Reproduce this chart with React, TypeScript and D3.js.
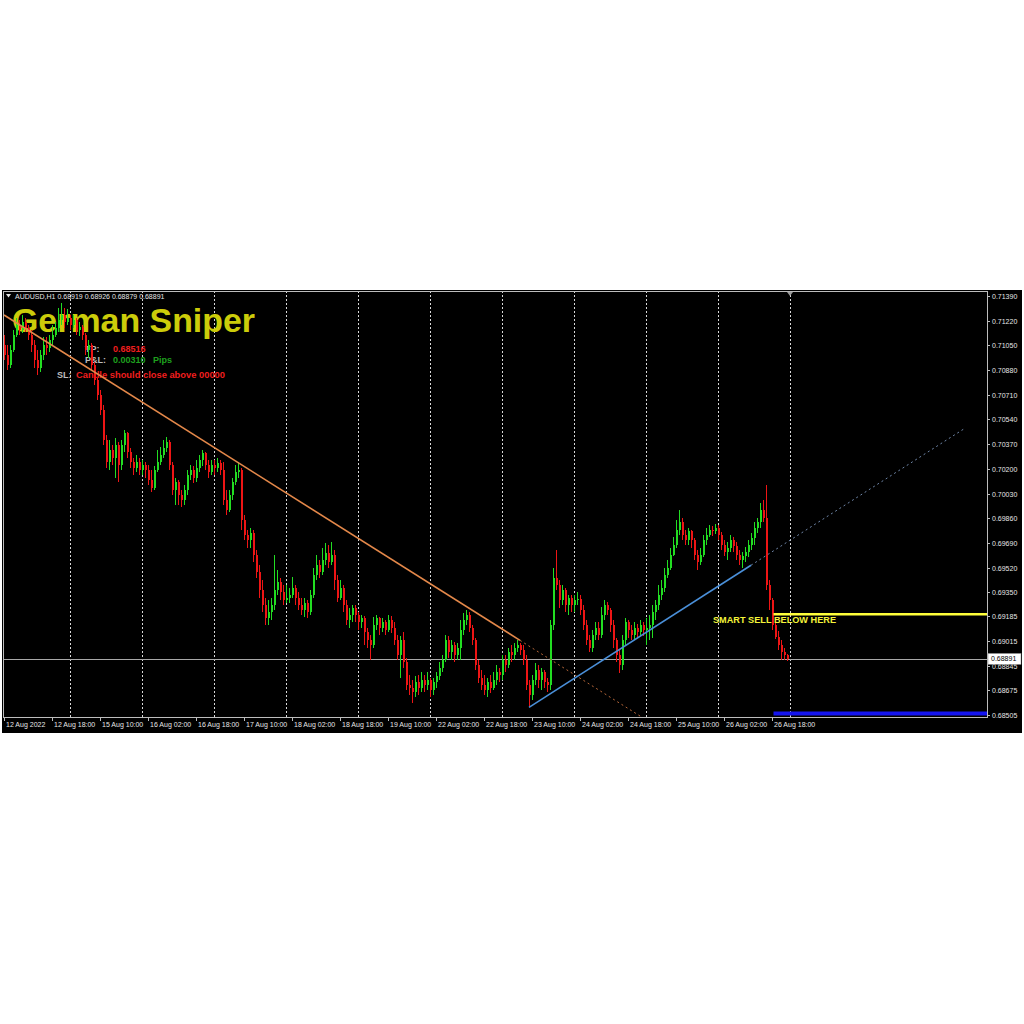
import React from 'react';
import * as d3 from 'd3';

// AUDUSD H1 candles, 12 Aug 2022 02:00 .. 26 Aug 2022 23:00
const opens = [
  0.71053, 0.70984, 0.70915, 0.71018, 0.71121, 0.71190, 0.71156, 0.71211, 0.71169, 0.71121, 0.71053, 0.70949, 0.70894, 0.70984, 0.71053, 0.71032, 0.71087, 0.71121, 0.71169, 0.71225, 0.71259, 0.71211,
  0.71239, 0.71190, 0.71225, 0.71156, 0.71176, 0.71121, 0.71018, 0.71053, 0.70915, 0.70811, 0.70708, 0.70605, 0.70398, 0.70246, 0.70329, 0.70274, 0.70363, 0.70226, 0.70363, 0.70446, 0.70315, 0.70246, 0.70205, 0.70246,
  0.70191, 0.70226, 0.70191, 0.70122, 0.70067, 0.70191, 0.70246, 0.70295, 0.70343, 0.70384, 0.70226, 0.70053, 0.70108, 0.70019, 0.69984, 0.70053, 0.70157, 0.70191, 0.70136, 0.70205, 0.70260, 0.70308, 0.70226, 0.70177,
  0.70226, 0.70205, 0.70239, 0.70191, 0.69984, 0.69915, 0.70019, 0.70108, 0.70177, 0.70191, 0.69846, 0.69743, 0.69708, 0.69757, 0.69605, 0.69488, 0.69364, 0.69261, 0.69171, 0.69212, 0.69261, 0.69364, 0.69419, 0.69350,
  0.69295, 0.69309, 0.69329, 0.69377, 0.69309, 0.69261, 0.69226, 0.69274, 0.69212, 0.69329, 0.69467, 0.69536, 0.69488, 0.69571, 0.69619, 0.69557, 0.69605, 0.69433, 0.69309, 0.69377, 0.69261, 0.69157, 0.69192, 0.69240,
  0.69192, 0.69143, 0.69171, 0.69074, 0.69019, 0.68985, 0.69123, 0.69171, 0.69102, 0.69143, 0.69088, 0.69157, 0.69102, 0.69019, 0.68916, 0.69019, 0.68867, 0.68709, 0.68688, 0.68661, 0.68730, 0.68688, 0.68744, 0.68709,
  0.68744, 0.68675, 0.68730, 0.68771, 0.68827, 0.68881, 0.69019, 0.68936, 0.68985, 0.68916, 0.68964, 0.69088, 0.69157, 0.69192, 0.69102, 0.69019, 0.68847, 0.68758, 0.68709, 0.68675, 0.68730, 0.68688, 0.68744, 0.68799,
  0.68778, 0.68881, 0.68847, 0.68936, 0.68916, 0.68964, 0.68985, 0.68950, 0.68881, 0.68709, 0.68640, 0.68744, 0.68813, 0.68744, 0.68799, 0.68730, 0.68709, 0.69123, 0.69446, 0.69398, 0.69295, 0.69364, 0.69261, 0.69309,
  0.69261, 0.69295, 0.69302, 0.69226, 0.69123, 0.69019, 0.68964, 0.69054, 0.69102, 0.69054, 0.69192, 0.69261, 0.69226, 0.69123, 0.69019, 0.68916, 0.68847, 0.69019, 0.69143, 0.69088, 0.69054, 0.69102, 0.69074, 0.69123,
  0.69088, 0.69102, 0.69123, 0.69212, 0.69261, 0.69329, 0.69377, 0.69467, 0.69515, 0.69605, 0.69674, 0.69777, 0.69832, 0.69743, 0.69708, 0.69770, 0.69708, 0.69605, 0.69557, 0.69605, 0.69708, 0.69743, 0.69777, 0.69770,
  0.69791, 0.69743, 0.69674, 0.69626, 0.69653, 0.69708, 0.69667, 0.69605, 0.69571, 0.69598, 0.69626, 0.69674, 0.69722, 0.69791, 0.69832, 0.69915, 0.69860, 0.69398, 0.69295, 0.69123, 0.69040, 0.68985, 0.68936, 0.68919,
];

const highs = [
  0.71121, 0.71053, 0.71053, 0.71156, 0.71239, 0.71225, 0.71259, 0.71239, 0.71190, 0.71156, 0.71087, 0.71018, 0.71018, 0.71107, 0.71107, 0.71121, 0.71190, 0.71211, 0.71308, 0.71342, 0.71308, 0.71301,
  0.71259, 0.71259, 0.71239, 0.71211, 0.71190, 0.71135, 0.71087, 0.71067, 0.70935, 0.70825, 0.70742, 0.70639, 0.70432, 0.70398, 0.70363, 0.70412, 0.70384, 0.70398, 0.70467, 0.70453, 0.70343, 0.70274, 0.70295, 0.70274,
  0.70260, 0.70246, 0.70226, 0.70191, 0.70219, 0.70329, 0.70349, 0.70398, 0.70418, 0.70398, 0.70246, 0.70136, 0.70122, 0.70053, 0.70088, 0.70191, 0.70226, 0.70219, 0.70260, 0.70295, 0.70329, 0.70315, 0.70260, 0.70260,
  0.70260, 0.70274, 0.70260, 0.70246, 0.70053, 0.70053, 0.70136, 0.70226, 0.70246, 0.70205, 0.69881, 0.69777, 0.69791, 0.69777, 0.69640, 0.69536, 0.69433, 0.69308, 0.69295, 0.69308, 0.69605, 0.69502, 0.69446, 0.69398,
  0.69398, 0.69377, 0.69453, 0.69398, 0.69350, 0.69309, 0.69309, 0.69295, 0.69364, 0.69516, 0.69605, 0.69571, 0.69653, 0.69688, 0.69674, 0.69694, 0.69640, 0.69467, 0.69433, 0.69398, 0.69295, 0.69240, 0.69261, 0.69261,
  0.69212, 0.69192, 0.69185, 0.69102, 0.69054, 0.69178, 0.69192, 0.69178, 0.69171, 0.69157, 0.69192, 0.69185, 0.69143, 0.69054, 0.69047, 0.69074, 0.68895, 0.68778, 0.68744, 0.68771, 0.68778, 0.68799, 0.68778, 0.68799,
  0.68758, 0.68758, 0.68799, 0.68867, 0.68916, 0.69054, 0.69047, 0.69019, 0.69005, 0.68998, 0.69157, 0.69206, 0.69226, 0.69212, 0.69123, 0.69033, 0.68881, 0.68813, 0.68778, 0.68758, 0.68778, 0.68799, 0.68847, 0.68827,
  0.68916, 0.68916, 0.68964, 0.68985, 0.68998, 0.69019, 0.68998, 0.68985, 0.68916, 0.68744, 0.68778, 0.68861, 0.68847, 0.68827, 0.68813, 0.68758, 0.69157, 0.69515, 0.69640, 0.69433, 0.69398, 0.69377, 0.69329, 0.69329,
  0.69329, 0.69350, 0.69329, 0.69261, 0.69157, 0.69054, 0.69088, 0.69143, 0.69143, 0.69247, 0.69295, 0.69281, 0.69240, 0.69157, 0.69033, 0.68950, 0.69054, 0.69171, 0.69157, 0.69123, 0.69143, 0.69130, 0.69157, 0.69143,
  0.69171, 0.69192, 0.69261, 0.69295, 0.69398, 0.69433, 0.69515, 0.69571, 0.69653, 0.69729, 0.69846, 0.69915, 0.69860, 0.69777, 0.69791, 0.69777, 0.69722, 0.69640, 0.69653, 0.69743, 0.69791, 0.69812, 0.69805, 0.69819,
  0.69812, 0.69764, 0.69708, 0.69694, 0.69743, 0.69729, 0.69694, 0.69640, 0.69626, 0.69660, 0.69708, 0.69757, 0.69832, 0.69860, 0.69964, 0.69984, 0.70088, 0.69433, 0.69309, 0.69143, 0.69081, 0.69019, 0.68964, 0.68926,
];

const lows = [
  0.70949, 0.70880, 0.70894, 0.71004, 0.71107, 0.71121, 0.71135, 0.71142, 0.71087, 0.71004, 0.70894, 0.70846, 0.70866, 0.70949, 0.70984, 0.71004, 0.71053, 0.71107, 0.71142, 0.71190, 0.71169, 0.71190,
  0.71156, 0.71169, 0.71121, 0.71114, 0.71087, 0.70984, 0.70963, 0.70880, 0.70777, 0.70674, 0.70570, 0.70363, 0.70205, 0.70191, 0.70226, 0.70136, 0.70108, 0.70191, 0.70315, 0.70274, 0.70205, 0.70157, 0.70177, 0.70157,
  0.70157, 0.70136, 0.70088, 0.70039, 0.70053, 0.70177, 0.70226, 0.70274, 0.70315, 0.70191, 0.70019, 0.69950, 0.69950, 0.69936, 0.69950, 0.70019, 0.70122, 0.70101, 0.70108, 0.70177, 0.70219, 0.70191, 0.70136, 0.70157,
  0.70157, 0.70177, 0.70157, 0.69950, 0.69881, 0.69901, 0.69984, 0.70088, 0.70136, 0.69777, 0.69708, 0.69653, 0.69653, 0.69557, 0.69446, 0.69308, 0.69212, 0.69123, 0.69123, 0.69157, 0.69226, 0.69329, 0.69295, 0.69261,
  0.69274, 0.69274, 0.69309, 0.69261, 0.69226, 0.69192, 0.69178, 0.69171, 0.69192, 0.69309, 0.69433, 0.69446, 0.69467, 0.69536, 0.69515, 0.69536, 0.69364, 0.69281, 0.69295, 0.69212, 0.69123, 0.69102, 0.69143, 0.69143,
  0.69088, 0.69102, 0.68985, 0.68964, 0.68881, 0.68964, 0.69088, 0.69054, 0.69074, 0.69054, 0.69074, 0.69067, 0.68985, 0.68881, 0.68757, 0.68827, 0.68675, 0.68640, 0.68585, 0.68626, 0.68640, 0.68661, 0.68661, 0.68675,
  0.68626, 0.68640, 0.68688, 0.68744, 0.68799, 0.68867, 0.68895, 0.68881, 0.68867, 0.68881, 0.68881, 0.69054, 0.69123, 0.69074, 0.68985, 0.68813, 0.68723, 0.68675, 0.68640, 0.68626, 0.68654, 0.68675, 0.68709, 0.68730,
  0.68744, 0.68799, 0.68827, 0.68867, 0.68881, 0.68936, 0.68916, 0.68847, 0.68675, 0.68557, 0.68606, 0.68709, 0.68688, 0.68675, 0.68688, 0.68661, 0.68675, 0.69088, 0.69364, 0.69240, 0.69261, 0.69212, 0.69192, 0.69212,
  0.69212, 0.69261, 0.69192, 0.69088, 0.68985, 0.68936, 0.68936, 0.69019, 0.69019, 0.69033, 0.69157, 0.69192, 0.69074, 0.68964, 0.68867, 0.68792, 0.68813, 0.68985, 0.69033, 0.69019, 0.69019, 0.69033, 0.69047, 0.69047,
  0.68985, 0.69019, 0.69033, 0.69157, 0.69226, 0.69295, 0.69350, 0.69446, 0.69502, 0.69598, 0.69653, 0.69743, 0.69708, 0.69674, 0.69674, 0.69653, 0.69571, 0.69502, 0.69536, 0.69591, 0.69674, 0.69729, 0.69736, 0.69750,
  0.69708, 0.69640, 0.69598, 0.69571, 0.69626, 0.69626, 0.69571, 0.69536, 0.69515, 0.69557, 0.69591, 0.69640, 0.69674, 0.69757, 0.69791, 0.69832, 0.69364, 0.69226, 0.69088, 0.69026, 0.68950, 0.68881, 0.68881, 0.68879,
];

const closes = [
  0.70984, 0.70915, 0.71018, 0.71121, 0.71190, 0.71156, 0.71211, 0.71169, 0.71121, 0.71053, 0.70949, 0.70894, 0.70984, 0.71053, 0.71032, 0.71087, 0.71121, 0.71169, 0.71225, 0.71259, 0.71211, 0.71239,
  0.71190, 0.71225, 0.71156, 0.71176, 0.71121, 0.71018, 0.71053, 0.70915, 0.70811, 0.70708, 0.70605, 0.70398, 0.70246, 0.70329, 0.70274, 0.70363, 0.70226, 0.70363, 0.70446, 0.70315, 0.70246, 0.70205, 0.70246, 0.70191,
  0.70226, 0.70191, 0.70122, 0.70067, 0.70191, 0.70246, 0.70295, 0.70343, 0.70384, 0.70226, 0.70053, 0.70108, 0.70019, 0.69984, 0.70053, 0.70157, 0.70191, 0.70136, 0.70205, 0.70260, 0.70308, 0.70226, 0.70177, 0.70226,
  0.70205, 0.70239, 0.70191, 0.69984, 0.69915, 0.70019, 0.70108, 0.70177, 0.70191, 0.69846, 0.69743, 0.69708, 0.69757, 0.69605, 0.69488, 0.69364, 0.69261, 0.69171, 0.69212, 0.69261, 0.69364, 0.69419, 0.69350, 0.69295,
  0.69309, 0.69329, 0.69377, 0.69309, 0.69261, 0.69226, 0.69274, 0.69212, 0.69329, 0.69467, 0.69536, 0.69488, 0.69571, 0.69619, 0.69557, 0.69605, 0.69433, 0.69309, 0.69377, 0.69261, 0.69157, 0.69192, 0.69240, 0.69192,
  0.69143, 0.69171, 0.69074, 0.69019, 0.68985, 0.69123, 0.69171, 0.69102, 0.69143, 0.69088, 0.69157, 0.69102, 0.69019, 0.68916, 0.69019, 0.68867, 0.68709, 0.68688, 0.68661, 0.68730, 0.68688, 0.68744, 0.68709, 0.68744,
  0.68675, 0.68730, 0.68771, 0.68827, 0.68881, 0.69019, 0.68936, 0.68985, 0.68916, 0.68964, 0.69088, 0.69157, 0.69192, 0.69102, 0.69019, 0.68847, 0.68758, 0.68709, 0.68675, 0.68730, 0.68688, 0.68744, 0.68799, 0.68778,
  0.68881, 0.68847, 0.68936, 0.68916, 0.68964, 0.68985, 0.68950, 0.68881, 0.68709, 0.68640, 0.68744, 0.68813, 0.68744, 0.68799, 0.68730, 0.68709, 0.69123, 0.69446, 0.69398, 0.69295, 0.69364, 0.69261, 0.69309, 0.69261,
  0.69295, 0.69302, 0.69226, 0.69123, 0.69019, 0.68964, 0.69054, 0.69102, 0.69054, 0.69192, 0.69261, 0.69226, 0.69123, 0.69019, 0.68916, 0.68847, 0.69019, 0.69143, 0.69088, 0.69054, 0.69102, 0.69074, 0.69123, 0.69088,
  0.69102, 0.69123, 0.69212, 0.69261, 0.69329, 0.69377, 0.69467, 0.69515, 0.69605, 0.69674, 0.69777, 0.69832, 0.69743, 0.69708, 0.69770, 0.69708, 0.69605, 0.69557, 0.69605, 0.69708, 0.69743, 0.69777, 0.69770, 0.69791,
  0.69743, 0.69674, 0.69626, 0.69653, 0.69708, 0.69667, 0.69605, 0.69571, 0.69598, 0.69626, 0.69674, 0.69722, 0.69791, 0.69832, 0.69915, 0.69860, 0.69398, 0.69295, 0.69123, 0.69040, 0.68985, 0.68936, 0.68919, 0.68891,
];

const timeLabels = [
  '12 Aug 2022', '12 Aug 18:00', '15 Aug 10:00', '16 Aug 02:00', '16 Aug 18:00', '17 Aug 10:00',
  '18 Aug 02:00', '18 Aug 18:00', '19 Aug 10:00', '22 Aug 02:00', '22 Aug 18:00', '23 Aug 10:00',
  '24 Aug 02:00', '24 Aug 18:00', '25 Aug 10:00', '26 Aug 02:00', '26 Aug 18:00',
];
const timeLabelBars = [0, 16, 32, 48, 64, 80, 96, 112, 128, 144, 160, 176, 192, 208, 224, 240, 256];

// first bar of each trading day (period separators)
const daySeparators = [22, 46, 70, 94, 118, 142, 166, 190, 214, 238, 262];

const priceTicks = [
  '0.71390', '0.71220', '0.71050', '0.70880', '0.70710', '0.70540', '0.70370', '0.70200', '0.70030',
  '0.69860', '0.69690', '0.69520', '0.69350', '0.69185', '0.69015', '0.68845', '0.68675', '0.68505',
];

const lastPrice = 0.68891;
const tpPrice = 0.68516;
const smartSellPrice = 0.69199;

// trend lines: [bar, price] anchors and the bar where the dotted ray stops
const downTrend = { from: [0, 0.71259], to: [172, 0.69019], rayEnd: 215 };
const upTrend = { from: [175, 0.68557], to: [249, 0.69536], rayEnd: 320 };

const FONT = '"Liberation Sans", Arial, sans-serif';

export default function App() {
  const left = 3, right = 987, top = 291, bottom = 717;
  const x = d3.scaleLinear().domain([0, 262]).range([4, 790]);
  const y = d3.scaleLinear().domain([0.68505, 0.7139]).range([715, 296]);

  const up = '#22dd22';
  const down = '#ee1515';

  const lineAt = (t: { from: number[]; to: number[] }, bar: number) => {
    const slope = (t.to[1] - t.from[1]) / (t.to[0] - t.from[0]);
    return t.from[1] + slope * (bar - t.from[0]);
  };

  const levelStart = x(256.5);

  return (
    <div style={{ position: 'absolute', left: 0, top: 0, width: 1024, height: 1024, background: '#fff' }}>
      <svg width={1024} height={1024} viewBox="0 0 1024 1024" style={{ display: 'block' }} fontFamily={FONT}>
        <defs>
          <clipPath id="plot-clip">
            <rect x={left} y={top} width={right - left} height={bottom - top} />
          </clipPath>
        </defs>
        <rect x={2} y={290} width={1020} height={443} fill="#000" />

        {/* period separators */}
        <g stroke="#d8d8d8" strokeDasharray="2,2" strokeWidth={1}>
          {daySeparators.map((b) => (
            <line key={b} x1={Math.round(x(b)) + 0.5} x2={Math.round(x(b)) + 0.5} y1={top} y2={bottom} />
          ))}
        </g>

        {/* indicator panel text */}
        <text x={12} y={332} fontSize={33} fontWeight="bold" fill="#cccc0a" textLength={243} lengthAdjust="spacingAndGlyphs">German Sniper</text>
        <g fontSize={9} fontWeight="bold">
          <text x={85} y={352} fill="#bdbdbd">TP:</text>
          <text x={113} y={352} fill="#f01e1e">0.68516</text>
          <text x={85} y={363} fill="#bdbdbd">P&amp;L:</text>
          <text x={113} y={363} fill="#1ea01e">0.00310</text>
          <text x={153} y={363} fill="#1ea01e">Pips</text>
          <text x={57} y={378} fill="#bdbdbd">SL:</text>
          <text x={76} y={378} fill="#f01e1e" textLength={149} lengthAdjust="spacingAndGlyphs">Candle should close above 00000</text>
        </g>

        {/* bid line */}
        <line x1={left} x2={right} y1={Math.round(y(lastPrice)) + 0.5} y2={Math.round(y(lastPrice)) + 0.5} stroke="#a8a8a8" strokeWidth={1} />

        <g clipPath="url(#plot-clip)">
          {/* candles */}
          {closes.map((c, i) => {
            const o = opens[i];
            const cx = Math.round(x(i));
            const col = c >= o ? up : down;
            const yTop = y(Math.max(o, c));
            const yBot = y(Math.min(o, c));
            return (
              <g key={i} shapeRendering="crispEdges">
                <line x1={cx + 0.5} x2={cx + 0.5} y1={y(highs[i])} y2={y(lows[i])} stroke={col} strokeWidth={1} />
                <rect x={cx - 0.5} y={yTop} width={2} height={Math.max(1, yBot - yTop)} fill={col} />
              </g>
            );
          })}

          {/* down trend line */}
          <line x1={x(downTrend.from[0])} y1={y(downTrend.from[1])} x2={x(downTrend.to[0])} y2={y(downTrend.to[1])} stroke="#e4884a" strokeWidth={1.6} />
          <line x1={x(downTrend.to[0])} y1={y(downTrend.to[1])} x2={x(downTrend.rayEnd)} y2={y(lineAt(downTrend, downTrend.rayEnd))} stroke="#b8683a" strokeWidth={1} strokeDasharray="2,3" />

          {/* up trend line */}
          <line x1={x(upTrend.from[0])} y1={y(upTrend.from[1])} x2={x(upTrend.to[0])} y2={y(upTrend.to[1])} stroke="#4a8fd8" strokeWidth={1.6} />
          <line x1={x(upTrend.to[0])} y1={y(upTrend.to[1])} x2={x(upTrend.rayEnd)} y2={y(lineAt(upTrend, upTrend.rayEnd))} stroke="#6f86a8" strokeWidth={1} strokeDasharray="2,3" />

          {/* levels */}
          <line x1={levelStart} x2={right} y1={y(smartSellPrice)} y2={y(smartSellPrice)} stroke="#ffff3a" strokeWidth={2.5} />
          <line x1={levelStart} x2={right} y1={y(tpPrice)} y2={y(tpPrice)} stroke="#1414f0" strokeWidth={4} />
        </g>

        <text x={713} y={623} fontSize={9} fontWeight="bold" fill="#f4f43a" textLength={123} lengthAdjust="spacingAndGlyphs">SMART SELL BELOW HERE</text>

        {/* frame */}
        <rect x={left + 0.5} y={top + 0.5} width={right - left} height={bottom - top} fill="none" stroke="#bdbdbd" strokeWidth={1} />
        <path d={`M${x(262) - 3},${top + 1} L${x(262) + 3},${top + 1} L${x(262)},${top + 5} Z`} fill="#9a9a9a" />

        {/* header */}
        <path d="M6,294 L11,294 L8.5,297.5 Z" fill="#e6e6e6" />
        <text x={15} y={299} fontSize={7} fill="#e6e6e6">AUDUSD,H1  0.68919 0.68926 0.68879 0.68891</text>

        {/* price axis */}
        <g fontSize={7} fill="#e6e6e6">
          {priceTicks.map((p) => {
            const py = Math.round(y(+p)) + 0.5;
            return (
              <g key={p}>
                <line x1={right} x2={right + 3} y1={py} y2={py} stroke="#bdbdbd" />
                <text x={992} y={py + 2.5}>{p}</text>
              </g>
            );
          })}
        </g>
        <rect x={988} y={y(lastPrice) - 5.5} width={33} height={11} fill="#fff" stroke="#888" strokeWidth={0.5} />
        <text x={991} y={y(lastPrice) + 2.5} fontSize={7} fill="#000">{lastPrice.toFixed(5)}</text>

        {/* time axis */}
        <g fontSize={7} fill="#e6e6e6">
          {timeLabels.map((t, k) => {
            const tx = Math.round(x(timeLabelBars[k])) + 0.5;
            return (
              <g key={t}>
                <line x1={tx} x2={tx} y1={bottom} y2={bottom + 4} stroke="#bdbdbd" />
                <text x={tx + 1.5} y={bottom + 10}>{t}</text>
              </g>
            );
          })}
        </g>
      </svg>
    </div>
  );
}
